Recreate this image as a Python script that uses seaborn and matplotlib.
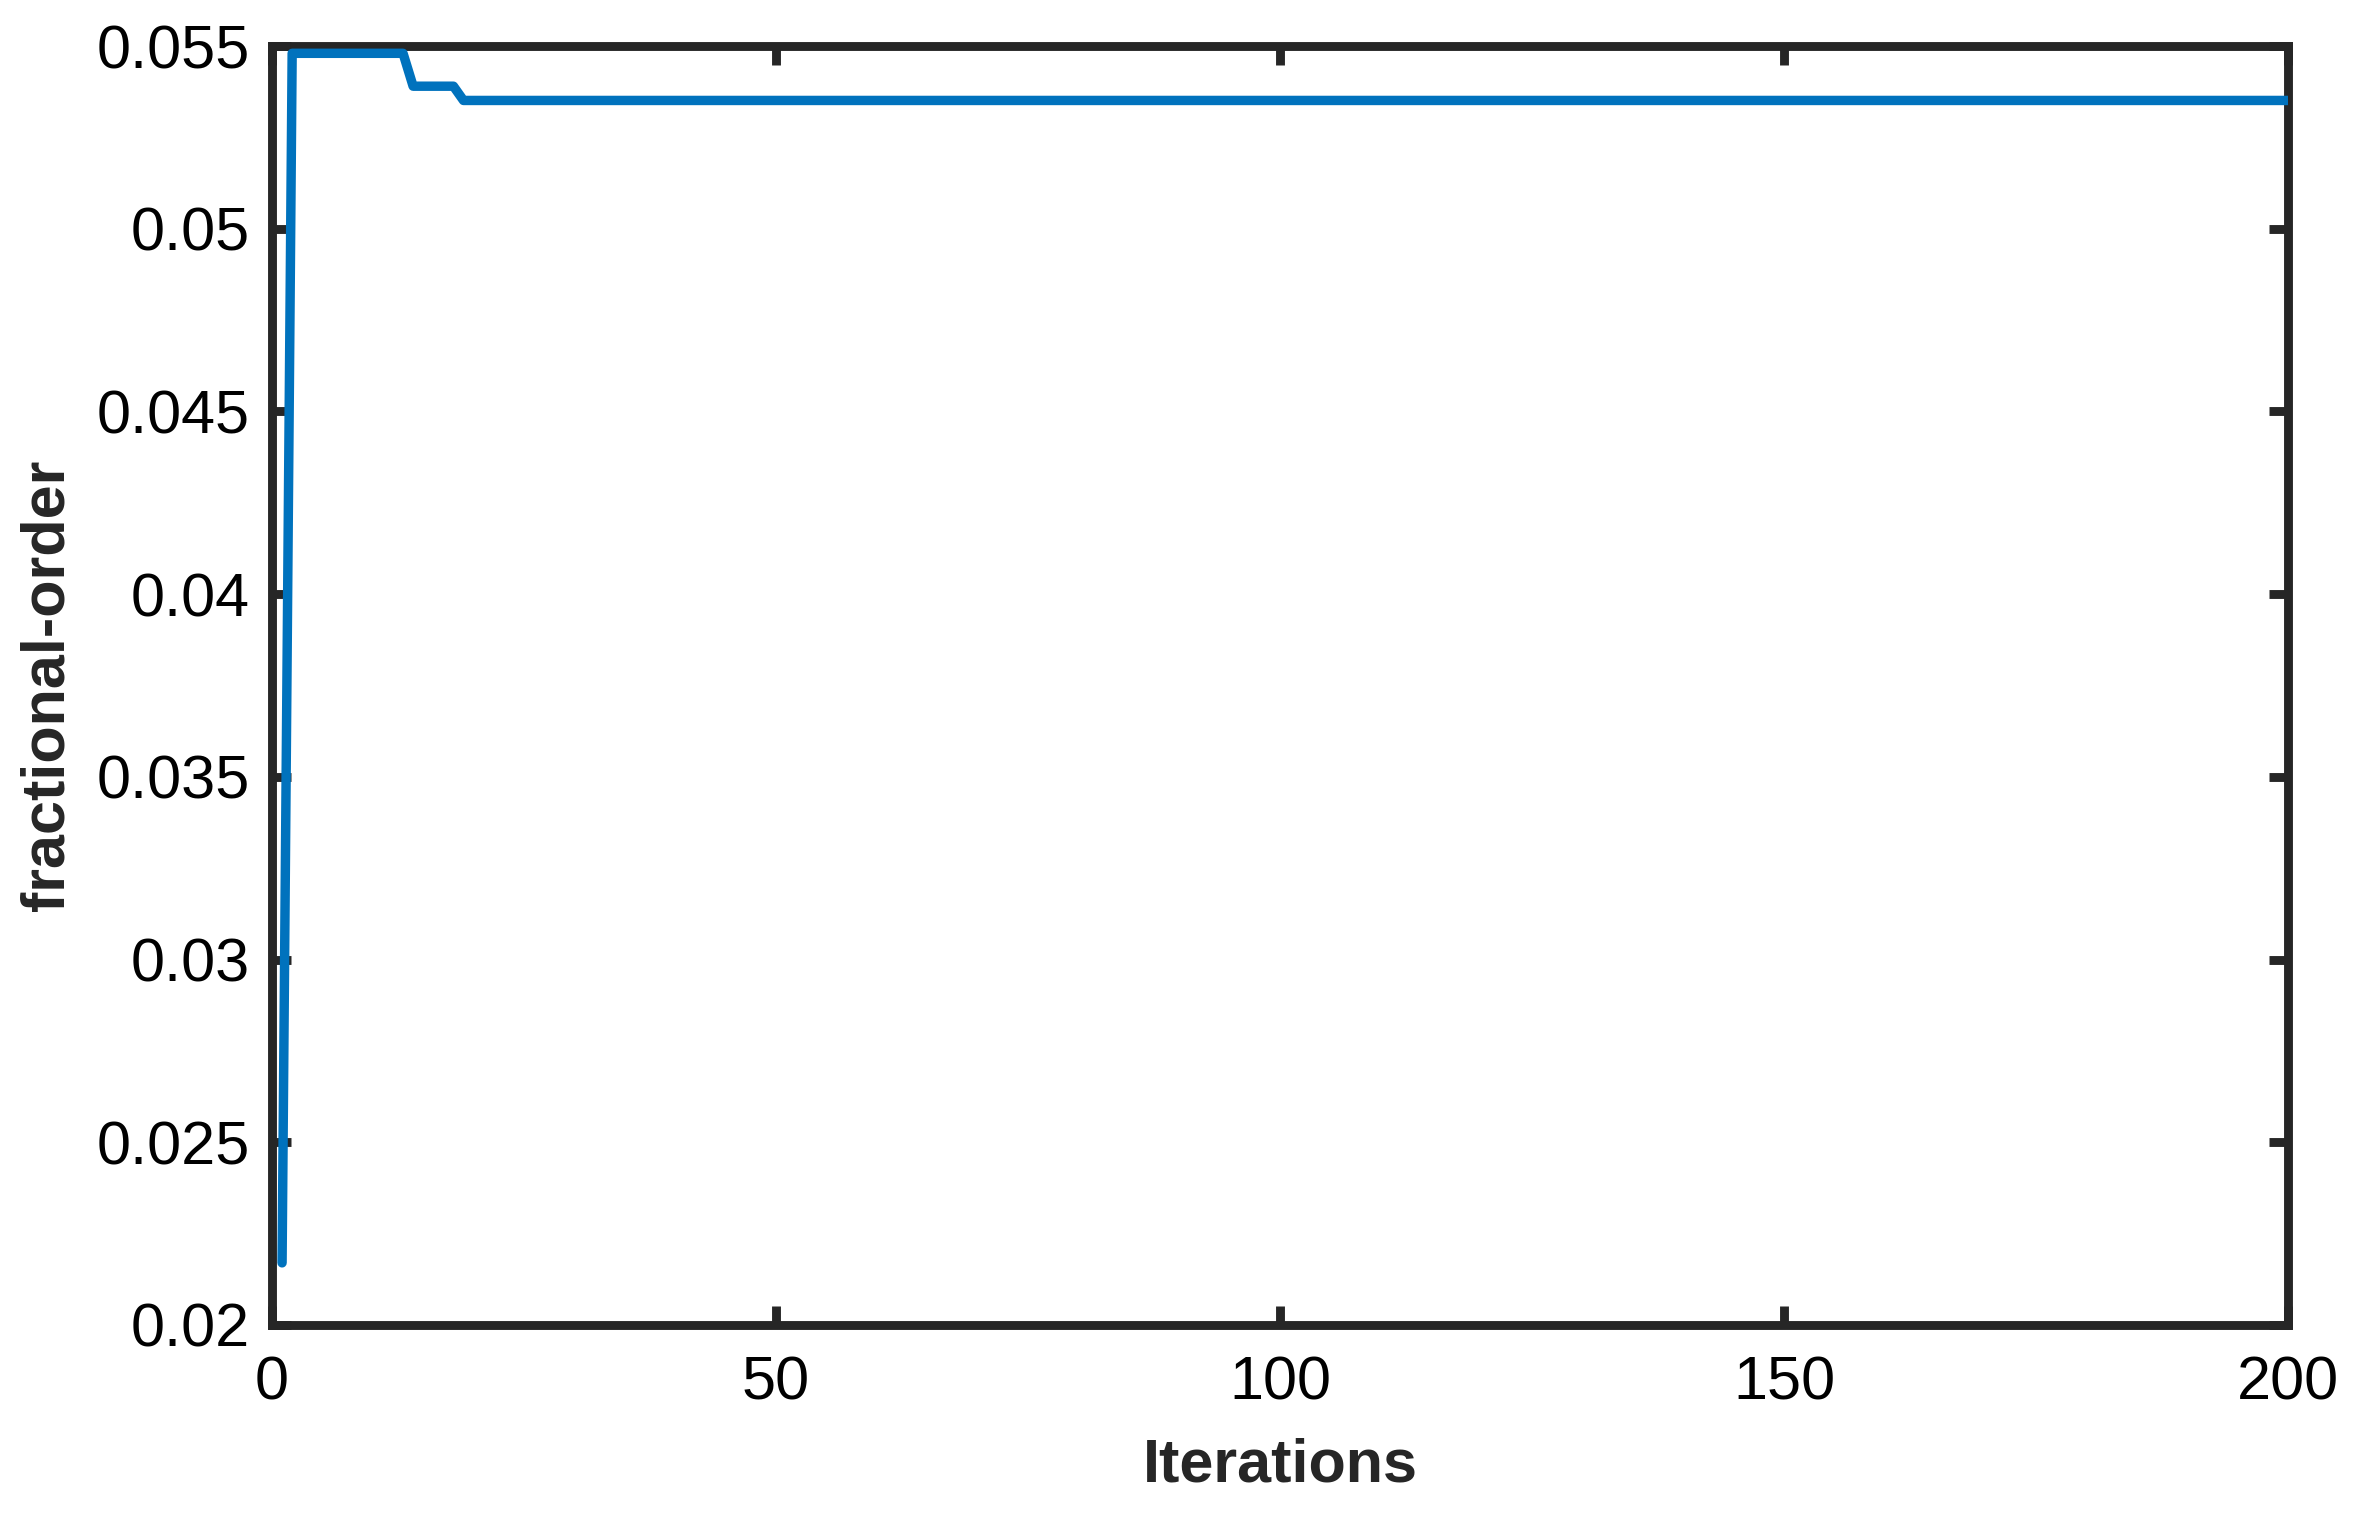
import numpy as np
import pandas as pd
import matplotlib
matplotlib.use("Agg")
import matplotlib.pyplot as plt
import seaborn as sns

# ==========================================
# 数据：迭代过程中分数阶参数的变化（拐点读取自原图）
# ==========================================
iterations = [1, 2, 13, 14, 18, 19, 200]
frac_order = [0.0217, 0.0548, 0.0548, 0.0539, 0.0539, 0.05351, 0.05351]

x_ticks = [0, 50, 100, 150, 200]
x_tick_labels = ['0', '50', '100', '150', '200']
y_ticks = [0.02, 0.025, 0.03, 0.035, 0.04, 0.045, 0.05, 0.055]
y_tick_labels = ['0.02', '0.025', '0.03', '0.035', '0.04', '0.045', '0.05', '0.055']

sns.set_theme(style="white")
plt.rcParams['font.family'] = ['Liberation Sans', 'DejaVu Sans']
plt.rcParams['axes.unicode_minus'] = False

AX_COLOR = '#262626'
LINE_COLOR = '#0072BD'

fig = plt.figure(figsize=(11.79, 7.675), dpi=200)
ax = fig.add_axes([0.11535, 0.13681, 0.85496, 0.83322])

df = pd.DataFrame({'Iterations': iterations, 'fractional-order': frac_order})
sns.lineplot(data=df, x='Iterations', y='fractional-order', ax=ax,
             color=LINE_COLOR, linewidth=3.4, zorder=3)

ax.set_xlim(0, 200)
ax.set_ylim(0.02, 0.055)
ax.set_xticks(x_ticks)
ax.set_xticklabels(x_tick_labels)
ax.set_yticks(y_ticks)
ax.set_yticklabels(y_tick_labels)

for sp in ax.spines.values():
    sp.set_visible(True)
    sp.set_color(AX_COLOR)
    sp.set_linewidth(3.2)

ax.tick_params(axis='both', which='major', direction='in', length=7, width=3.2,
               color=AX_COLOR, labelsize=22, labelcolor='black',
               top=True, right=True, bottom=True, left=True)
ax.tick_params(axis='x', pad=11)
ax.tick_params(axis='y', pad=8)

ax.set_xlabel('Iterations', fontsize=22, weight='bold', color=AX_COLOR, labelpad=9)
ax.set_ylabel('fractional-order', fontsize=22, weight='bold', color=AX_COLOR, labelpad=7)
ax.grid(False)

plt.savefig('out.png', dpi=200)
plt.close()
